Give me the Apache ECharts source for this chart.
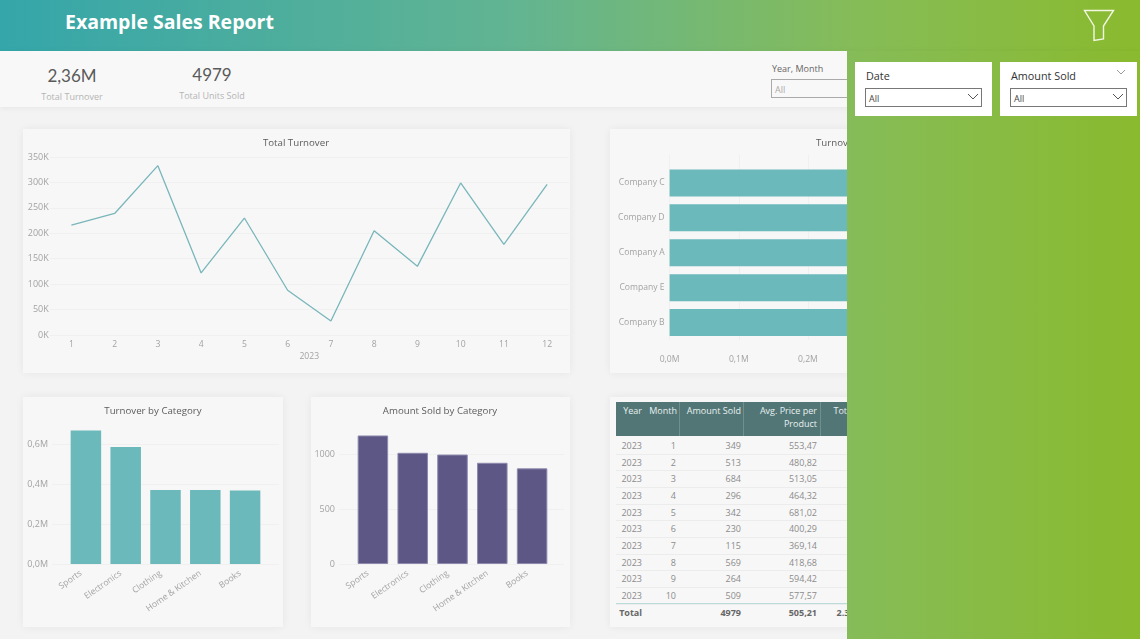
<!DOCTYPE html>
<html>
<head>
<meta charset="utf-8">
<title>Example Sales Report</title>
<script src="https://cdn.jsdelivr.net/npm/echarts@6/dist/echarts.min.js"></script>
<style>
body { margin: 0; width: 1140px; height: 639px; overflow: hidden; background: #f3f3f3; font-family: "Open Sans", "Noto Sans", sans-serif; position: relative; }
div { position: absolute; box-sizing: border-box; }
.gradient { left: 0; top: 0; width: 1140px; height: 639px; background: linear-gradient(90deg, #35a6aa 0%, #62b492 45%, #86bc58 75%, #8aba2e 100%); }
#header { left: 0; top: 0; width: 1140px; height: 51px; overflow: hidden; }
#title { left: 65px; top: 8px; color: #fff; font-size: 19.5px; font-weight: 700; white-space: nowrap; }
#band { left: 0; top: 51px; width: 1140px; height: 56px; background: #f8f8f8; box-shadow: 0 1px 6px rgba(0,0,0,.06); }
.kpi { width: 140px; text-align: center; color: #5a5a5a; font-size: 17px; font-family: "Lato", sans-serif; }
.kpi-label { width: 140px; text-align: center; color: #b4b4b4; font-size: 9px; }
.card { background: #f7f7f7; box-shadow: 0 0 8px rgba(0,0,0,.06); }
#panel { left: 847px; top: 51px; width: 293px; height: 588px; overflow: hidden; z-index: 3; }
#panel .gradient { left: -847px; top: -51px; }
.slicer { top: 11px; width: 137px; height: 54px; background: #fff; }
.slicer-name { left: 11px; top: 6px; font-size: 10.8px; color: #333; }
.dropdown { left: 10px; top: 26px; width: 117px; height: 19px; border: 1px solid #777; font-size: 9px; color: #444; padding: 3px 0 0 3px; }
.dropdown svg { position: absolute; right: 2px; top: 3px; }
#ym-label { left: 772px; top: 62px; font-size: 9px; color: #666; }
#ym-box { left: 771px; top: 79px; width: 100px; height: 19px; border: 1px solid #aaa; font-size: 9px; color: #aaa; padding: 3px 0 0 3px; }
#chart { left: 0; top: 0; width: 1140px; height: 639px; z-index: 2; }
#table { left: 616px; top: 402px; width: 300px; height: 220px; font-size: 9px; color: #8c8c8c; }
#table-head { left: 0; top: 0; width: 300px; height: 34px; background: #527676; }
.cell { white-space: nowrap; }
.sep { top: 0; width: 1px; height: 34px; background: #6f9090; }
.rule { left: 0; width: 231px; height: 1px; background: #ececec; }
</style>
</head>
<body>
<div class="gradient"></div>
<div style="left:0;top:51px;width:1140px;height:588px;background:#f3f3f3"></div>
<div id="header"><div class="gradient"></div><div id="title">Example Sales Report</div></div>
<div id="band"></div>
<div class="kpi" style="left:2px;top:65px">2,36M</div>
<div class="kpi-label" style="left:2px;top:90px">Total Turnover</div>
<div class="kpi" style="left:142px;top:64px">4979</div>
<div class="kpi-label" style="left:142px;top:89px">Total Units Sold</div>
<div id="ym-label">Year, Month</div>
<div id="ym-box">All</div>

<div class="card" style="left:23px;top:129px;width:547px;height:244px"></div>
<div class="card" style="left:610px;top:129px;width:512px;height:244px"></div>
<div class="card" style="left:23px;top:397px;width:260px;height:230px"></div>
<div class="card" style="left:311px;top:397px;width:259px;height:230px"></div>
<div class="card" style="left:610px;top:397px;width:512px;height:230px"></div>
<div id="table"></div>
<div id="chart"></div>

<div id="panel">
  <div class="gradient"></div>
  <div class="slicer" style="left:8px">
    <div class="slicer-name">Date</div>
    <div class="dropdown">All<svg width="12" height="10"><path d="M1 2 L6 7 L11 2" fill="none" stroke="#555"/></svg></div>
  </div>
  <div class="slicer" style="left:153px">
    <div class="slicer-name">Amount Sold</div>
    <svg style="position:absolute;left:116px;top:7px" width="10" height="8"><path d="M1 1 L5 5 L9 1" fill="none" stroke="#9a9a9a"/></svg>
    <div class="dropdown">All<svg width="12" height="10"><path d="M1 2 L6 7 L11 2" fill="none" stroke="#555"/></svg></div>
  </div>
</div>
<svg style="position:absolute;left:1083px;top:9px;z-index:4" width="32" height="33">
  <path d="M1.5 1.5 H30.5 L20.5 17 V30 L11 31.5 V17 Z" fill="none" stroke="#f2f7e4" stroke-width="1.4"/>
</svg>

<script>
const months = ['1', '2', '3', '4', '5', '6', '7', '8', '9', '10', '11', '12']
const monthTurnover = [216, 239, 333, 122, 230, 88, 27.5, 205, 135, 299, 178, 296]

const companies = ['Company C', 'Company D', 'Company A', 'Company E', 'Company B']
const companyTurnover = [0.61, 0.55, 0.48, 0.38, 0.34]

const categories = ['Sports', 'Electronics', 'Clothing', 'Home & Kitchen', 'Books']
const categoryTurnover = [0.668, 0.585, 0.37, 0.37, 0.367]
const categoryAmount = [1172, 1014, 998, 923, 872]

const tableHead = ['Year', 'Month', 'Amount Sold', 'Avg. Price per', 'Product', 'Total Turnover']
const tableYears = ['2023', '2023', '2023', '2023', '2023', '2023', '2023', '2023', '2023', '2023']
const tableMonths = ['1', '2', '3', '4', '5', '6', '7', '8', '9', '10']
const tableAmounts = ['349', '513', '684', '296', '342', '230', '115', '569', '264', '509']
const tablePrices = ['553,47', '480,82', '513,05', '464,32', '681,02', '400,29', '369,14', '418,68', '594,42', '577,57']
const tableTotals = ['Total', '4979', '505,21', '2.36M']

// table is plain html, columns are right aligned
const table = document.getElementById('table')
function addCell(text, right, top, color, bold) {
    const el = document.createElement('div')
    el.className = 'cell'
    el.textContent = text
    el.style.right = (300 - right) + 'px'
    el.style.top = top + 'px'
    el.style.color = color || '#8c8c8c'
    if (bold) el.style.fontWeight = '700'
    table.appendChild(el)
}
const head = document.createElement('div')
head.id = 'table-head'
table.appendChild(head)
;[63, 127, 204].forEach(x => {
    const s = document.createElement('div')
    s.className = 'sep'
    s.style.left = x + 'px'
    table.appendChild(s)
})
addCell(tableHead[0], 26, 2, '#e8f0f0')
addCell(tableHead[1], 61, 2, '#e8f0f0')
addCell(tableHead[2], 125, 2, '#e8f0f0')
addCell(tableHead[3], 201, 2, '#e8f0f0')
addCell(tableHead[4], 201, 15, '#e8f0f0')
addCell(tableHead[5], 279, 2, '#e8f0f0')
tableYears.forEach((y, i) => {
    const top = 37 + i * 16.67
    addCell(y, 26, top)
    addCell(tableMonths[i], 60, top)
    addCell(tableAmounts[i], 125, top)
    addCell(tablePrices[i], 201, top)
    const r = document.createElement('div')
    r.className = 'rule'
    r.style.top = (top + 14.5) + 'px'
    table.appendChild(r)
})
const totalLine = document.createElement('div')
totalLine.className = 'rule'
totalLine.style.top = '201px'
totalLine.style.width = '300px'
totalLine.style.background = '#bcdcdc'
table.appendChild(totalLine)
addCell(tableTotals[0], 26, 204, '#666', true)
addCell(tableTotals[1], 125, 204, '#666', true)
addCell(tableTotals[2], 201, 204, '#666', true)
addCell(tableTotals[3], 247, 204, '#666', true)

const labelColor = '#a3a3a3'
const gridColor = '#f0f0f0'
const baseFont = '"Open Sans", sans-serif'

function titleAt(text, x, y) {
    return {
        text: text,
        left: x,
        top: y,
        textAlign: 'center',
        padding: 0,
        textStyle: { fontSize: 9.7, fontWeight: 'normal', color: '#5c5c5c', fontFamily: baseFont }
    }
}
const millions = v => v.toFixed(1).replace('.', ',') + 'M'

// grids 0-3 hold the marks, grids 4-6 only carry the wider gridlines and value labels
const grids = [
    { left: 49.75, top: 157, width: 519, height: 178 },
    { left: 669.6, top: 165.5, width: 415, height: 174.5 },
    { left: 66, top: 424, width: 199, height: 140 },
    { left: 353, top: 432.4, width: 199, height: 131.6 },
    { left: 669.6, top: 155, width: 415, height: 185 },
    { left: 52, top: 424, width: 227, height: 140 },
    { left: 339, top: 432.4, width: 225, height: 131.6 }
]

const hiddenValue = (gridIndex, min, max) => ({
    type: 'value', gridIndex, min, max, show: false
})
const labelStyle = { color: labelColor, fontSize: 8.6, fontFamily: baseFont }
// whole px size keeps the value labels level with their gridlines
const sideLabel = { color: labelColor, fontSize: 9, fontFamily: baseFont }

const option = {
    animation: false,
    backgroundColor: 'transparent',
    title: [
        titleAt('Total Turnover', 296, 138),
        titleAt('Turnover by Company', 866, 138),
        titleAt('Turnover by Category', 153, 406),
        titleAt('Amount Sold by Category', 440, 406)
    ],
    grid: grids,
    xAxis: [
        {
            type: 'category', gridIndex: 0, data: months,
            name: '2023', nameLocation: 'middle', nameGap: 17,
            nameTextStyle: labelStyle,
            axisLine: { show: false }, axisTick: { show: false },
            axisLabel: Object.assign({ margin: 5 }, labelStyle)
        },
        hiddenValue(1, 0, 0.6),
        {
            type: 'category', gridIndex: 2, data: categories,
            axisLine: { show: false }, axisTick: { show: false },
            axisLabel: Object.assign({ rotate: 35, margin: 5, interval: 0, padding: [0, 6, 0, 0] }, labelStyle)
        },
        {
            type: 'category', gridIndex: 3, data: categories,
            axisLine: { show: false }, axisTick: { show: false },
            axisLabel: Object.assign({ rotate: 35, margin: 5, interval: 0, padding: [0, 6, 0, 0] }, labelStyle)
        },
        {
            type: 'value', gridIndex: 4, min: 0, max: 0.6, interval: 0.1,
            axisLine: { show: false }, axisTick: { show: false },
            splitLine: { lineStyle: { color: gridColor } },
            axisLabel: Object.assign({ formatter: millions, margin: 15 }, labelStyle)
        },
        hiddenValue(5, 0, 1),
        hiddenValue(6, 0, 1)
    ],
    yAxis: [
        {
            type: 'value', gridIndex: 0, min: 0, max: 350, interval: 50,
            axisLine: { show: false }, axisTick: { show: false },
            splitLine: { lineStyle: { color: gridColor } },
            axisLabel: Object.assign({ formatter: v => v + 'K', margin: 1 }, sideLabel)
        },
        {
            type: 'category', gridIndex: 1, data: companies, inverse: true,
            axisLine: { show: false }, axisTick: { show: false },
            axisLabel: Object.assign({ margin: 5 }, labelStyle)
        },
        hiddenValue(2, 0, 0.7),
        hiddenValue(3, 0, 1200),
        hiddenValue(4, 0, 1),
        {
            type: 'value', gridIndex: 5, min: 0, max: 0.7, interval: 0.2,
            axisLine: { show: false }, axisTick: { show: false },
            splitLine: { showMaxLine: false, lineStyle: { color: gridColor } },
            axisLabel: Object.assign({ formatter: millions, margin: 4, showMaxLabel: false }, sideLabel)
        },
        {
            type: 'value', gridIndex: 6, min: 0, max: 1200, interval: 500,
            axisLine: { show: false }, axisTick: { show: false },
            splitLine: { showMaxLine: false, lineStyle: { color: gridColor } },
            axisLabel: Object.assign({ formatter: v => String(v), margin: 4, showMaxLabel: false }, sideLabel)
        }
    ],
    series: [
        {
            type: 'line', xAxisIndex: 0, yAxisIndex: 0, data: monthTurnover,
            showSymbol: false,
            lineStyle: { color: '#79b6ba', width: 1.3 }
        },
        {
            type: 'bar', xAxisIndex: 1, yAxisIndex: 1, data: companyTurnover,
            barWidth: 27,
            itemStyle: { color: '#6bb9bb' }
        },
        {
            type: 'bar', xAxisIndex: 2, yAxisIndex: 2, data: categoryTurnover,
            barWidth: 30.5,
            itemStyle: { color: '#6bb9bb' }
        },
        {
            type: 'bar', xAxisIndex: 3, yAxisIndex: 3, data: categoryAmount,
            barWidth: 30.5,
            itemStyle: { color: '#5c5784', borderColor: '#8d89ad', borderWidth: 1 }
        }
    ]
}

const chart = echarts.init(document.getElementById('chart'))
chart.setOption(option)
</script>
</body>
</html>
